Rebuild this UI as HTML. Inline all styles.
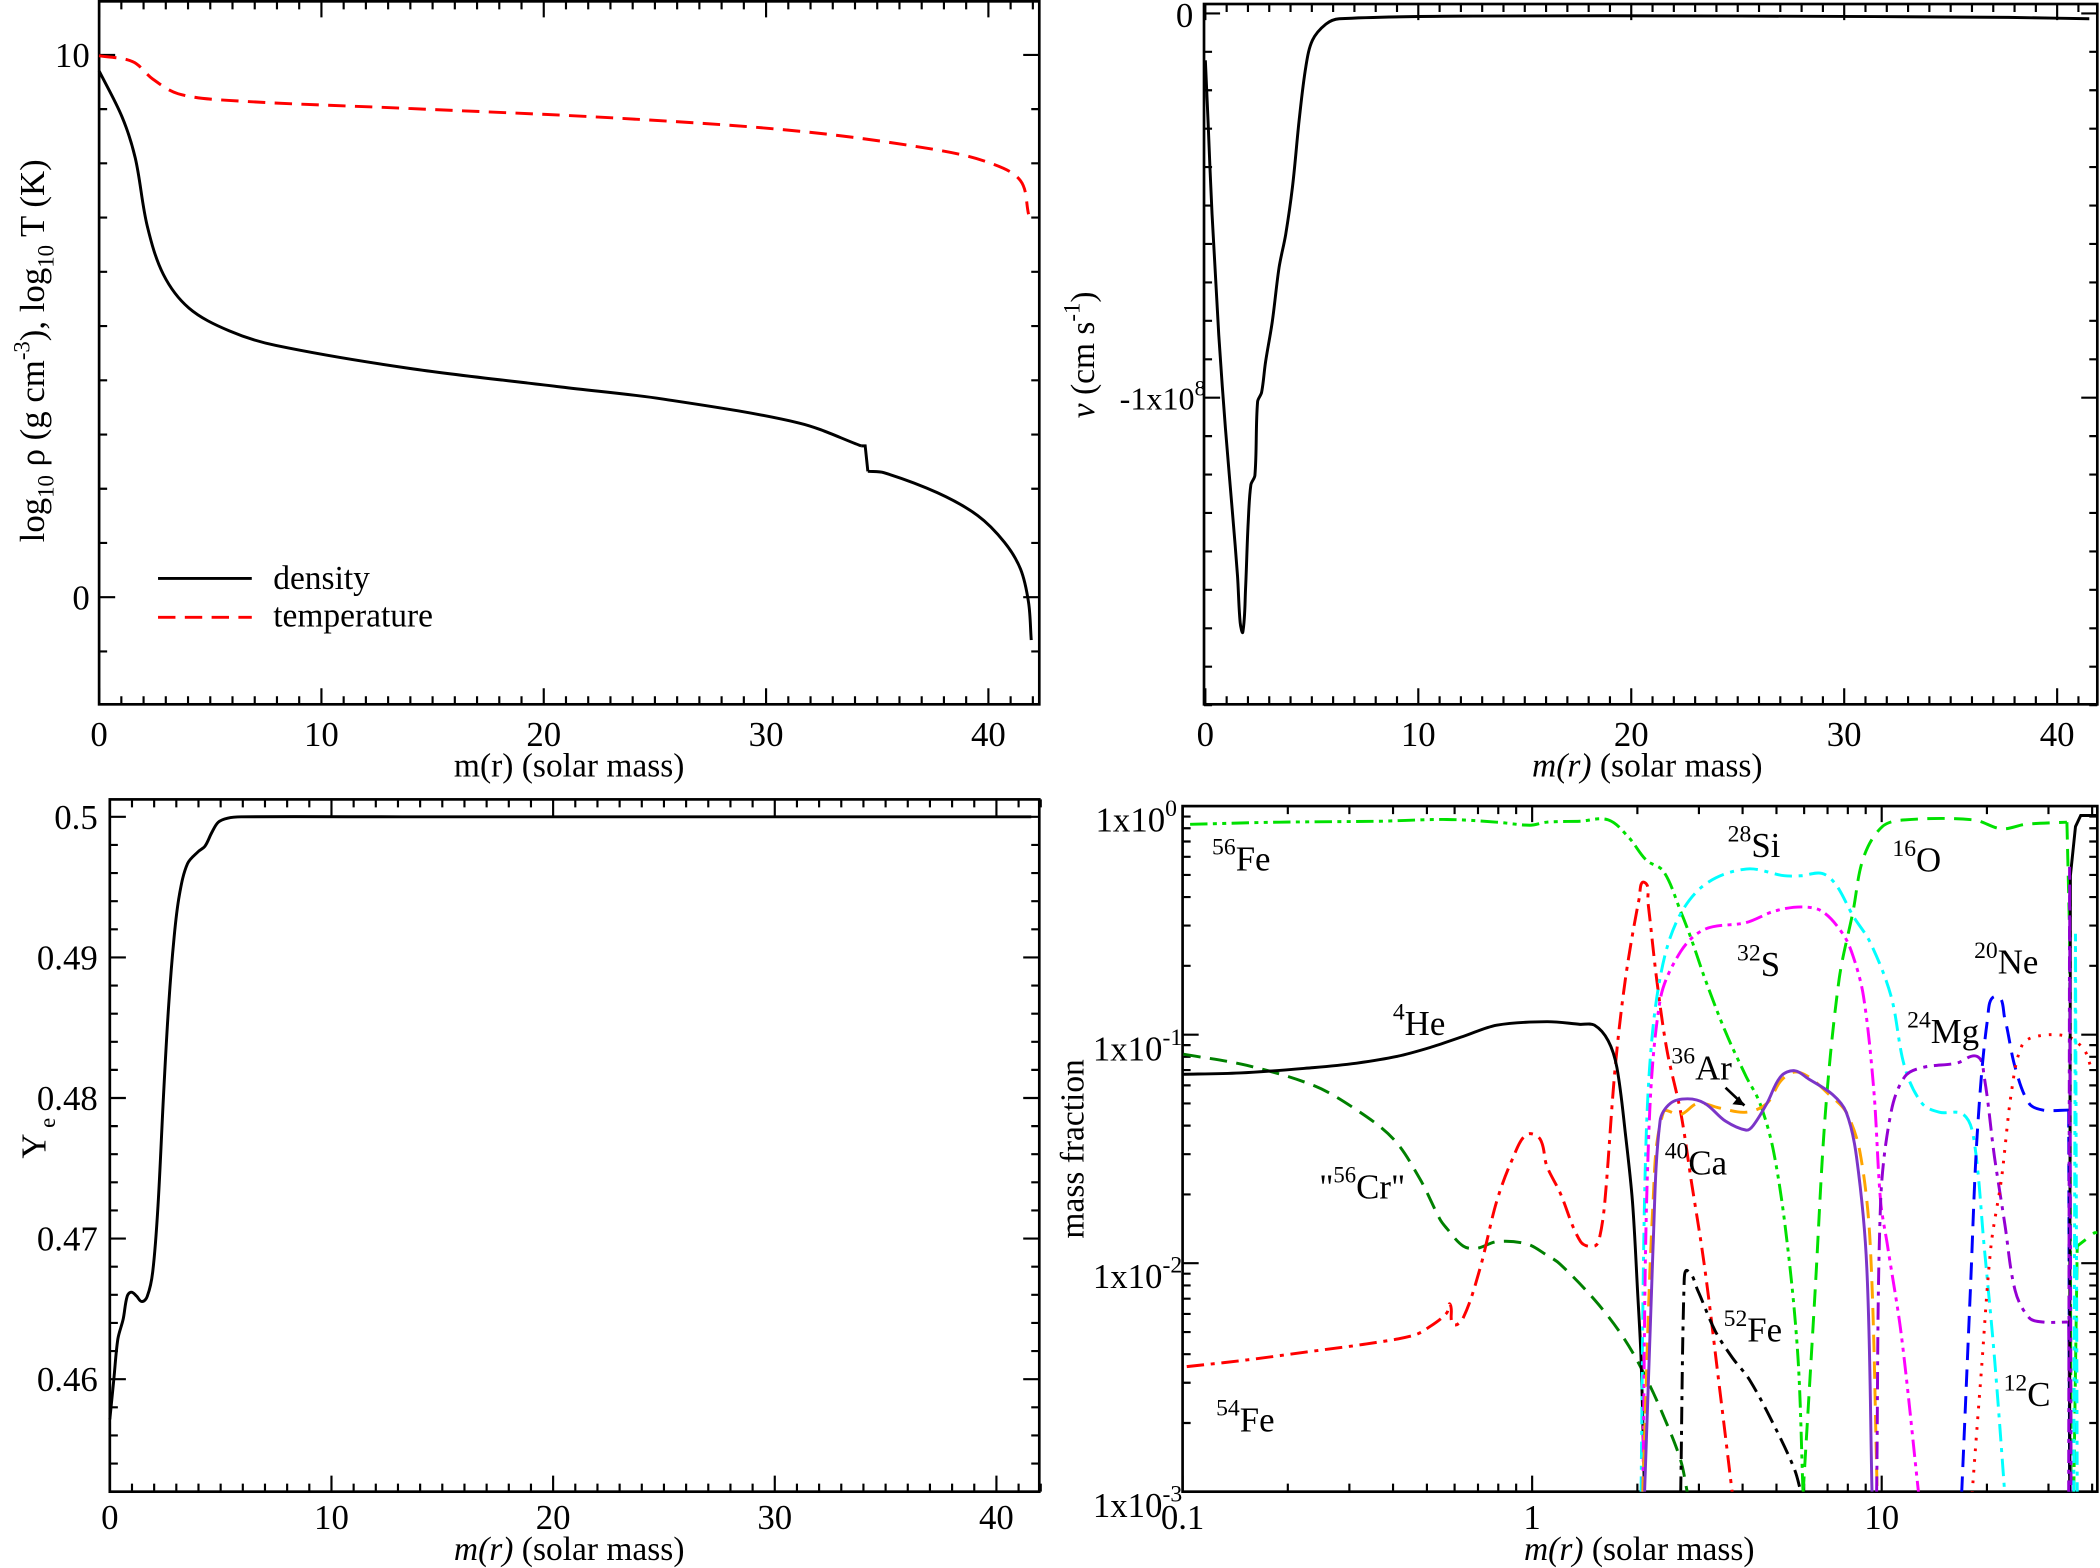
<!DOCTYPE html>
<html><head><meta charset="utf-8">
<style>html,body{margin:0;padding:0;background:#fff;}svg{display:block;}text{font-family:"Liberation Serif",serif;fill:#000;}</style>
</head><body>
<svg id="s" xmlns="http://www.w3.org/2000/svg" width="2100" height="1568" viewBox="0 0 1568 1171" preserveAspectRatio="none">
<rect width="1568" height="1171" fill="#fff"/>
<g id="g"></g>
</svg>
<script>
var out=[];
function pl(pts,col,dash,w){w=w||2.2;var d='M'+pts[0][0].toFixed(1)+' '+pts[0][1].toFixed(1);
function tan(i){var a=pts[i-1]||pts[i],b=pts[i+1]||pts[i];var dx=b[0]-a[0],dy=b[1]-a[1],l=Math.sqrt(dx*dx+dy*dy)||1;return [dx/l,dy/l];}
for(var i=0;i<pts.length-1;i++){var p1=pts[i],p2=pts[i+1];var L=Math.sqrt(Math.pow(p2[0]-p1[0],2)+Math.pow(p2[1]-p1[1],2))/3;
var t1=tan(i),t2=tan(i+1);
var c1=[p1[0]+t1[0]*L,p1[1]+t1[1]*L],c2=[p2[0]-t2[0]*L,p2[1]-t2[1]*L];
d+=' C'+c1[0].toFixed(1)+' '+c1[1].toFixed(1)+' '+c2[0].toFixed(1)+' '+c2[1].toFixed(1)+' '+p2[0].toFixed(1)+' '+p2[1].toFixed(1);}
out.push('<path d="'+d+'" fill="none" stroke="'+col+'" stroke-width="'+w+'" stroke-linejoin="round"'+(dash?' stroke-dasharray="'+dash+'"':'')+'/>');}
function sl(pts,col,w,dash){var d=pts.map(function(p,i){return (i?'L':'M')+p[0].toFixed(1)+' '+p[1].toFixed(1);}).join(' ');out.push('<path d="'+d+'" fill="none" stroke="'+col+'" stroke-width="'+(w||2.2)+'"'+(dash?' stroke-dasharray="'+dash+'"':'')+'/>');}
function tx(x,y,s,size,anchor,extra){out.push('<text x="'+x+'" y="'+y+'" font-size="'+(size||26)+'"'+(anchor?' text-anchor="'+anchor+'"':'')+(extra||'')+'>'+s+'</text>');}
function sup(x,y,a,b,size){size=size||26;var ss=size*0.68;out.push('<text x="'+x+'" y="'+y+'" font-size="'+size+'"><tspan font-size="'+ss+'" dy="'+(-0.45*size)+'">'+a+'</tspan><tspan dy="'+(0.45*size)+'">'+b+'</tspan></text>');}
function pre(x,y,a,b,size){size=size||26;var ss=size*0.68;out.push('<text x="'+x+'" y="'+y+'" font-size="'+size+'"><tspan>'+a+'</tspan><tspan font-size="'+ss+'" dy="'+(-0.45*size)+'">'+b+'</tspan></text>');}
function frame(x0,y0,x1,y1,xt,yt){out.push('<rect x="'+x0+'" y="'+y0+'" width="'+(x1-x0)+'" height="'+(y1-y0)+'" fill="none" stroke="#000" stroke-width="2"/>');
var d='';xt.forEach(function(t){var L=t[1]?12:6;d+='M'+t[0]+' '+y1+'v'+(-L)+'M'+t[0]+' '+y0+'v'+L;});
yt.forEach(function(t){var L=t[1]?12:6;d+='M'+x0+' '+t[0]+'h'+L+'M'+x1+' '+t[0]+'h'+(-L);});
out.push('<path d="'+d+'" stroke="#000" stroke-width="1.6" fill="none"/>');}
function lin(a,b,step,majEvery,map){var r=[];for(var v=a;v<=b+1e-9;v+=step){var k=Math.round(v/step);r.push([map(v),Math.abs(k%majEvery)==0]);}return r;}

// ---- TL
(function(){var X=function(m){return 74+16.6*m},Y=function(v){return 446-40.5*v};
frame(74,1,776,526,lin(0,42,1,10,X),lin(-1,10,1,10,Y));
pl([[74,53],[91,87],[101,118],[110,169],[122,205],[141,230],[171,247],[206,258],[305,275],[419,289],[495,298],[597,316],[643,333]],'#000');
sl([[643,333],[646,333],[648,352]],'#000');
pl([[648,352],[660,353],[700,368],[730,385],[750,405],[762,425],[768,450],[770,478]],'#000');
pl([[74,41.6],[99,46],[114,59],[133,70],[171,75],[305,81],[457,88],[597,98],[700,112],[740,122],[762,135],[768,160]],'#f00','13,7');
['0','10','20','30','40'].forEach(function(s,i){tx(X(i*10),557,s,26,'middle');});
tx(67,50,'10',26,'end');tx(67,455,'0',26,'end');
tx(425,580,'m(r) (solar mass)',25,'middle');
out.push('<text transform="translate(33,262) rotate(-90)" font-size="26" text-anchor="middle">log<tspan font-size="17" dy="7">10</tspan><tspan dy="-7"> ρ (g cm</tspan><tspan font-size="17" dy="-11">-3</tspan><tspan dy="11">), log</tspan><tspan font-size="17" dy="7">10</tspan><tspan dy="-7"> T (K)</tspan></text>');
sl([[118,432],[188,432]],'#000');out.push('<path d="M118 461H188" stroke="#f00" stroke-width="2.2" stroke-dasharray="13,7"/>');
tx(204,440,'density',25);tx(204,468,'temperature',25);
})();

// ---- TR
(function(){var X=function(m){return 900+15.9*m},Y=function(v){return 10-287*v};
frame(899,3,1566,526,lin(0,41,1,10,X),lin(-1.8,0,0.1,10,Y));
pl([[900,45],[902,90],[905,160],[910,250],[915,320],[920,380],[924,430],[926,465],[928,472],[930,440],[932,390],[934,362],[937,355],[939,300],[942,293],[945,270],[950,240],[955,200],[960,175],[965,140],[970,90],[975,50],[980,30],[990,18],[1000,14],[1100,12],[1300,12],[1500,13],[1560,14]],'#000');
['0','10','20','30','40'].forEach(function(s,i){tx(X(i*10),557,s,26,'middle');});
tx(891,20,'0',26,'end');pre(836,306,'-1x10','8',24);
out.push('<text x="1230" y="580" font-size="25" text-anchor="middle"><tspan font-style="italic">m(r)</tspan> (solar mass)</text>');
out.push('<text transform="translate(817,265) rotate(-90)" font-size="25" text-anchor="middle"><tspan font-style="italic">v</tspan> (cm s<tspan font-size="17" dy="-11">-1</tspan><tspan dy="11">)</tspan></text>');
})();

// ---- BL
(function(){var X=function(m){return 82+16.55*m},Y=function(v){return 610+(0.5-v)*10500};
frame(82,597,776,1114,lin(0,42,1,10,X),lin(0.452,0.5,0.002,5,Y));
pl([[82,1060],[85,1030],[88,1000],[92,985],[95,968],[98,965],[102,968],[106,972],[110,968],[114,950],[118,900],[122,820],[126,750],[130,700],[134,668],[140,645],[148,636],[153,632],[158,622],[163,614],[170,611],[180,610],[300,610],[770,610]],'#000');
['0','10','20','30','40'].forEach(function(s,i){tx(X(i*10),1142,s,26,'middle');});
[0.5,0.49,0.48,0.47,0.46].forEach(function(v){tx(73,Y(v)+9,v==0.5?'0.5':v.toFixed(2),26,'end');});
out.push('<text x="425" y="1165" font-size="25" text-anchor="middle"><tspan font-style="italic">m(r)</tspan> (solar mass)</text>');
out.push('<text transform="translate(34,850) rotate(-90)" font-size="26" text-anchor="middle">Y<tspan font-size="17" dy="7"> e</tspan></text>');
})();

// ---- BR
(function(){var X=function(m){return 883+261*Math.log10(m/0.1)},Y=function(v){return 602-170.7*Math.log10(v)};
var xt=[],yt=[];[0.1,1,10].forEach(function(d){for(var k=1;k<10;k++){var m=k*d;if(m<=41.4)xt.push([X(m),k==1]);}});
[-3,-2,-1].forEach(function(e){for(var k=1;k<10;k++)yt.push([Y(k*Math.pow(10,e)),k==1]);});yt.push([602,true]);
frame(883,602,1566,1114,xt,yt);
var Z5=function(a){return a.map(function(p){return [881.1+p[0]/4.018,597.3+p[1]/3.0];});};
var Z4=function(a){return a.map(function(p){return [1164.8+p[0]/3.884,597.3+p[1]/3.0];});};
out.push('<clipPath id="cp"><rect x="883" y="602" width="683" height="512"/></clipPath>');
out.push('<g clip-path="url(#cp)">');
var G='#00e000',DG='#008000';
pl(Z5([[10,570],[200,595],[400,640],[520,690],[640,760],[720,850],[780,940],[800,960],[850,1000],[890,1005],[950,990],[1040,995],[1100,1020]]).concat(Z4([[0,1040],[100,1120],[180,1200],[240,1280],[300,1380],[350,1480],[370,1555]])),DG,'13,7');
pl(Z5([[20,1270],[200,1255],[400,1235],[550,1220],[700,1200],[750,1180],[800,1150],[810,1130],[820,1175],[850,1160],[900,1050],[950,900],[1000,800],[1040,750],[1080,760],[1100,820]]).concat(Z4([[0,880],[60,990],[100,1000],[115,980],[130,900],[160,600],[190,400],[230,220],[245,185],[255,230],[280,400],[310,560],[350,700],[380,850],[420,1050],[460,1300],[500,1555]])),'#f00','13,5,3,5');
pl(Z5([[30,55],[300,50],[600,48],[800,44],[950,50],[1050,57],[1100,50],[1200,48]]).concat(Z4([[140,45],[200,85],[250,135],[300,160],[350,250],[380,310],[420,400],[480,520],[540,620],[580,680],[620,790],[660,1000],[690,1250],[705,1555]])),G,'13,4,3,4,3,4');
pl(Z5([[0,615],[180,612],[400,600],[530,590],[650,575],[750,555],[850,530],[950,505],[1100,497],[1200,503]]).concat(Z4([[100,505],[140,540],[165,600],[190,750],[210,900],[225,1100],[235,1250],[245,1555]])),'#000');
pl(Z4([[235,1555],[245,900],[260,600],[290,400],[340,270],[420,190],[540,155],[650,170],[700,170],[760,165],[800,190],[850,260],[900,320],[960,440],[1000,600],[1050,680],[1100,700],[1170,705],[1200,760],[1230,1000],[1260,1250],[1290,1555]]),'#00ffff','13,5,3,5');
pl(Z4([[240,1555],[255,800],[290,450],[350,340],[420,290],[540,275],[620,250],[700,240],[760,250],[820,300],[850,350],[880,440],[910,650],[930,900],[950,1000],[990,1200],[1040,1555]]),'#ff00ff','13,4,3,4,3,4');
pl(Z4([[705,1555],[740,1100],[770,700],[810,400],[850,250],[880,130],[935,60],[1000,45],[1200,45],[1280,65],[1350,55],[1470,50]]),G,'13,7');
sl(Z4([[1470,50],[1478,300],[1482,1555]]),G,2.2,'13,7');
sl(Z4([[1490,1555],[1500,1000],[1550,970],[1570,970]]),G,2.2,'13,7');
pl(Z4([[240,1555],[270,900],[300,700],[350,705],[400,680],[460,690],[540,700],[600,680],[640,630],[680,610],[720,620],[780,660],[830,700],[870,790],[900,1000],[920,1555]]),'#ffa500','13,7');
pl(Z4([[245,1555],[270,1000],[290,720],[320,680],[370,670],[420,680],[480,720],[540,740],[560,730],[600,680],[640,620],[680,607],[720,625],[790,660],[830,700],[860,800],[890,1050],[905,1555]]),'#7b35c8');
pl(Z4([[350,1555],[360,1080],[370,1055],[400,1100],[450,1190],[500,1250],[550,1300],[620,1400],[680,1500],[700,1555]]),'#000','13,5,3,5');
pl(Z4([[918,1555],[930,900],[960,700],[1000,620],[1050,600],[1150,590],[1210,575],[1230,620],[1260,800],[1290,950],[1320,1100],[1360,1160],[1400,1170],[1475,1170]]),'#9400d3','13,5,3,5');
sl(Z4([[1475,1170],[1480,1555]]),'#9400d3',2.2);
pl(Z4([[1165,1555],[1190,1100],[1210,750],[1240,490],[1265,440],[1290,490],[1320,600],[1360,680],[1400,695],[1475,695]]),'#0000ff','13,7');
sl(Z4([[1475,695],[1478,1555]]),'#0000ff',2.2,'13,7');
pl(Z4([[1195,1555],[1220,1300],[1250,1000],[1280,850],[1310,650],[1340,550],[1380,530],[1470,530],[1520,560],[1540,600]]),'#f00','2,6');
sl(Z4([[1478,1555],[1480,170],[1495,60],[1510,35],[1570,35]]),'#000');
sl(Z4([[1475,1555],[1478,150],[1482,1555]]),'#9400d3',2.2,'10,5,3,5');
sl(Z4([[1490,1555],[1495,300],[1500,1555]]),'#00ffff',2.2,'10,5,3,5');
out.push('</g>');
var a=Z4([[480,645],[535,685]]);sl(a,'#000',2);
out.push('<path d="M'+a[1][0]+' '+a[1][1]+' l-9 -1 l5 -6z" fill="#000"/>');
sup(905,650,'56','Fe');sup(1040,773,'4','He');
out.push('<text x="985" y="895" font-size="26">"<tspan font-size="17" dy="-12">56</tspan><tspan dy="12">Cr"</tspan></text>');
sup(908,1069,'54','Fe');sup(1290,640,'28','Si');sup(1413,651,'16','O');sup(1297,729,'32','S');
sup(1474,727,'20','Ne');sup(1424,779,'24','Mg');sup(1248,806,'36','Ar');sup(1243,877,'40','Ca');
sup(1287,1002,'52','Fe');sup(1496,1050,'12','C');
pre(818,621,'1x10','0');pre(816,792,'1x10','-1');pre(816,962,'1x10','-2');pre(816,1133,'1x10','-3');
tx(883,1142,'0.1',26,'middle');tx(1144,1142,'1',26,'middle');tx(1405,1142,'10',26,'middle');
out.push('<text x="1224" y="1165" font-size="25" text-anchor="middle"><tspan font-style="italic">m(r)</tspan> (solar mass)</text>');
out.push('<text transform="translate(809,858) rotate(-90)" font-size="25" text-anchor="middle">mass fraction</text>');
})();
document.getElementById('g').innerHTML=out.join('');
</script>
</body></html>
